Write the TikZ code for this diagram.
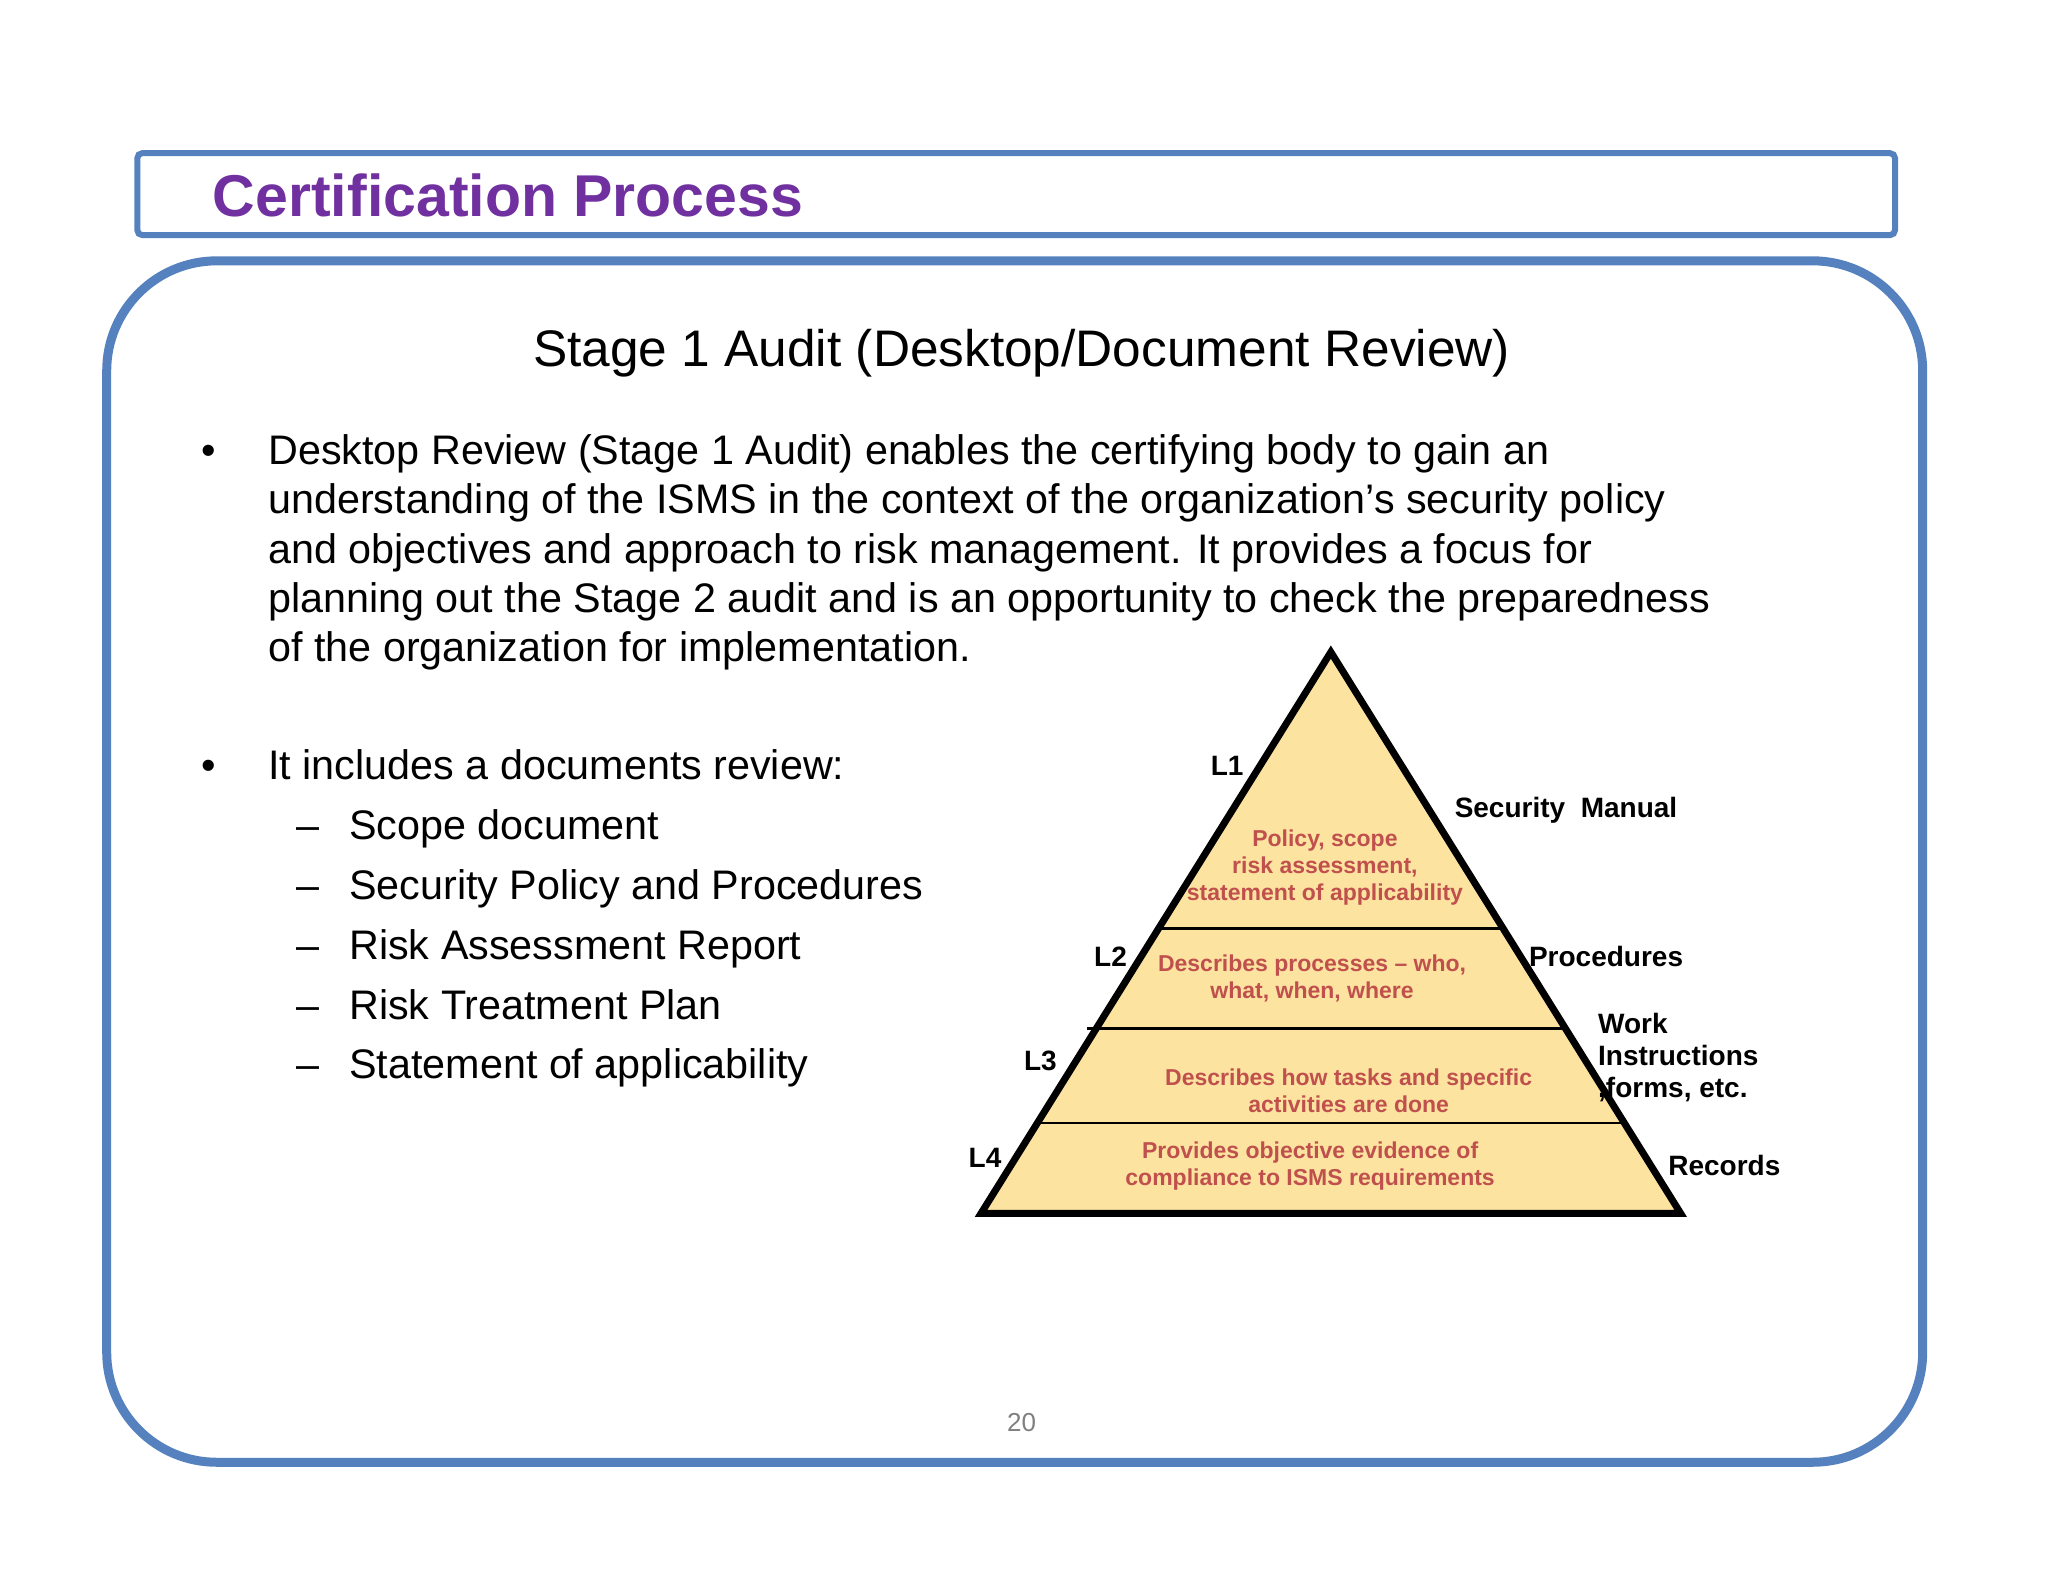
\documentclass[tikz,border=0pt]{standalone}
\usepackage{fontspec}
\setmainfont{Liberation Sans}
\begin{document}
\begin{tikzpicture}[x=1pt,y=-1pt,
  pyr/.style={font=\fontsize{23}{27}\selectfont\bfseries, text=pyrred, align=center},
  lab/.style={font=\fontsize{28}{32}\selectfont\bfseries, text=black},
  body/.style={font=\fontsize{41.3}{50}\selectfont, anchor=base west}]
\definecolor{boxblue}{HTML}{5582BE}
\definecolor{titlepurple}{HTML}{7030A0}
\definecolor{pyrfill}{HTML}{FCE3A0}
\definecolor{pyrred}{HTML}{C0504D}
\useasboundingbox (0,0) rectangle (2048,1582);
\fill[white] (0,0) rectangle (2048,1582);
\begin{scope}[scale=0.988]
% title box
\draw[boxblue, line width=6, rounded corners=5] (139,155) rectangle (1918,238);
\node[anchor=west, text=titlepurple, font=\fontsize{59}{62}\selectfont\bfseries] (title) at (212,198) {Certification Process};
% main box
\draw[boxblue, line width=9, rounded corners=110] (108,264) rectangle (1946,1480);
\node[font=\fontsize{51.4}{56}\selectfont] (sub) at (1034,357) {Stage 1 Audit (Desktop/Document Review)};
% bullet 1
\node[body] (b1) at (200,470) {\textbullet};
\node[body] (l1) at (268,470) {Desktop Review (Stage 1 Audit) enables the certifying body to gain an};
\node[body] (l2) at (268,520) {understanding of the ISMS in the context of the organization’s security policy};
\node[body] (l3) at (268,570) {and objectives and approach to risk management. It provides a focus for};
\node[body] (l4) at (268,620) {planning out the Stage 2 audit and is an opportunity to check the preparedness};
\node[body] (l5) at (268,670) {of the organization for implementation.};
\node[body] (b2) at (200,789) {\textbullet};
\node[body] (m1) at (268,789) {It includes a documents review:};
\foreach \t [count=\i] in {Scope document,Security Policy and Procedures,Risk Assessment Report,Risk Treatment Plan,Statement of applicability}{
  \node[body] (d\i) at (297,850+60.5*\i-60.5) {–};
  \node[body] (s\i) at (350,850+60.5*\i-60.5) {\t};
}
% pyramid
\fill[pyrfill] (1347,660) -- (1701,1228) -- (993,1228) -- cycle;
\draw[line width=3] (1172,940) -- (1522,940);
\draw[line width=3] (1100,1041) -- (1584,1041);
\draw[line width=2] (1050,1137) -- (1644,1137);
\draw[line width=7, line join=miter] (1347,660) -- (1701,1228) -- (993,1228) -- cycle;
\node[pyr] (p1) at (1341,878) {Policy, scope\\risk assessment,\\statement of applicability};
\node[pyr] (p2) at (1328,990) {Describes processes – who,\\what, when, where};
\node[pyr] (p3) at (1365,1104) {Describes how tasks and specific\\activities are done};
\node[pyr] (p4) at (1326,1180) {Provides objective evidence of\\compliance to ISMS requirements};
\node[lab] (L1) at (1242,775) {L1};
\node[lab] (L2) at (1124,968) {L2};
\node[lab] (L3) at (1053,1074) {L3};
\node[lab] (L4) at (997,1172) {L4};
\node[lab] (sm) at (1585,820) {Security\ \ Manual};
\node[lab, anchor=west] (pr) at (1544,968) {Procedures};
\node[lab, anchor=west, align=left] (wi) at (1614,1070) {Work\\Instructions\\,forms, etc.};
\node[lab, anchor=west] (rc) at (1685,1180) {Records};
\node[text=gray, font=\fontsize{26}{30}\selectfont] (pg) at (1034,1440) {20};
\end{scope}
\end{tikzpicture}
\end{document}
